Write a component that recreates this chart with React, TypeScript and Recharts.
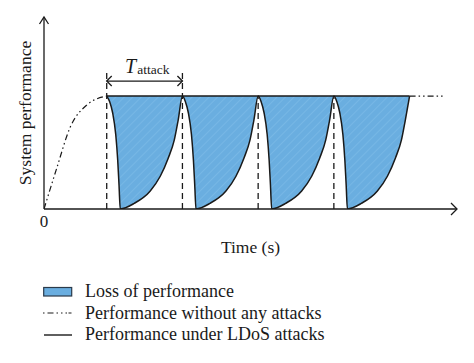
import React from "react";
import {
  ComposedChart,
  Area,
  Line,
  XAxis,
  YAxis,
  ReferenceLine,
  ReferenceDot,
} from "recharts";

// time axis (arbitrary units), performance normalised to 1 = no attack
const attackTime = [
  8.2, 8.59, 8.98, 9.38, 9.64, 9.81, 9.97, 11.8, 13.89, 15.2, 16.24, 17.03, 17.55,
  18.1, 18.49, 18.88, 19.28, 19.54, 19.71, 19.87, 21.7, 23.79, 25.1, 26.14, 26.93, 27.45,
  28.0, 28.39, 28.78, 29.18, 29.44, 29.61, 29.77, 31.6, 33.69, 35.0, 36.04, 36.83, 37.35,
  37.9, 38.29, 38.68, 39.08, 39.34, 39.51, 39.67, 41.5, 43.59, 44.9, 45.94, 46.73, 47.25,
  47.8,
];
const attackPerf = [
  1, 0.95, 0.85, 0.66, 0.43, 0.21, 0, 0.05, 0.16, 0.29, 0.45, 0.61, 0.79,
  1, 0.95, 0.85, 0.66, 0.43, 0.21, 0, 0.05, 0.16, 0.29, 0.45, 0.61, 0.79,
  1, 0.95, 0.85, 0.66, 0.43, 0.21, 0, 0.05, 0.16, 0.29, 0.45, 0.61, 0.79,
  1, 0.95, 0.85, 0.66, 0.43, 0.21, 0, 0.05, 0.16, 0.29, 0.45, 0.61, 0.79,
  1,
];
const peakPerf = 1;

const rampTime = [0, 1.66, 3.4, 5.58, 8.2];
const rampPerf = [0, 0.36, 0.72, 0.92, 1];
const tailTime = [47.8, 52.3];
const tailPerf = [1, 1];

const attackStarts = [8.2, 18.1, 28.0, 37.9];
const periodMarkTop = 1.23;
const periodArrowY = 1.133;

const legendItems = [
  "Loss of performance",
  "Performance without any attacks",
  "Performance under LDoS attacks",
];

const attackData = attackTime.map((t, i) => ({ t, perf: attackPerf[i], peak: peakPerf }));
const rampData = rampTime.map((t, i) => ({ t, perf: rampPerf[i] }));
const tailData = tailTime.map((t, i) => ({ t, perf: tailPerf[i] }));

const INK = "#1a1a1a";
const FILL = "#6aaee0";
const FONT = "'Liberation Serif', 'Times New Roman', serif";
const DASHDOT = "6 3 1.5 3 1.5 3";

const upArrow = (p: any) => (
  <path d={`M${p.cx - 4.5},${p.cy + 7} L${p.cx},${p.cy} L${p.cx + 4.5},${p.cy + 7}`} fill="none" stroke={INK} strokeWidth={1.3} />
);
const rightArrow = (p: any) => (
  <path d={`M${p.cx - 6},${p.cy - 6} L${p.cx},${p.cy} L${p.cx - 6},${p.cy + 6}`} fill="none" stroke={INK} strokeWidth={1.3} />
);

const doubleArrow = (p: any) => {
  const { x1, y1, x2, y2 } = p;
  return (
    <g fill="none" stroke={INK} strokeWidth={1.3}>
      <line x1={x1} y1={y1} x2={x2} y2={y2} />
      <path d={`M${x1 + 5},${y1 - 5} L${x1},${y1} L${x1 + 5},${y1 + 5}`} />
      <path d={`M${x2 - 5},${y2 - 5} L${x2},${y2} L${x2 - 5},${y2 + 5}`} />
    </g>
  );
};

const periodLabel = (p: any) => (
  <text x={p.cx} y={p.cy} textAnchor="middle" fill={INK} fontFamily={FONT}>
    <tspan fontSize={20} fontStyle="italic">T</tspan>
    <tspan fontSize={13.5} dx={1} dy={1}>attack</tspan>
  </text>
);

function LegendIcon({ kind }: { kind: number }) {
  return (
    <svg width={30} height={12} style={{ display: "block" }}>
      {kind === 0 && <rect x={0.7} y={1.5} width={28} height={8.5} fill={FILL} stroke="#2a3a4a" strokeWidth={1.2} />}
      {kind === 1 && <line x1={0} y1={6} x2={29} y2={6} stroke={INK} strokeWidth={1.2} strokeDasharray="1.5 3 6 3 1.5 3 1.5 3 1.5" />}
      {kind === 2 && <line x1={1} y1={6} x2={29} y2={6} stroke={INK} strokeWidth={1.4} />}
    </svg>
  );
}

export default function App() {
  return (
    <div style={{ position: "absolute", left: 0, top: 0, width: 474, height: 363, background: "#fff", fontFamily: FONT }}>
      <ComposedChart width={474} height={363} margin={{ top: 17, right: 17, left: 0, bottom: 104 }}>
        <defs>
          <pattern id="hatch" width={6} height={6} patternUnits="userSpaceOnUse" patternTransform="rotate(45)">
            <rect width={6} height={6} fill={FILL} />
            <line x1={0} y1={0} x2={0} y2={6} stroke="#7dbbe8" strokeWidth={1.4} />
          </pattern>
        </defs>
        <XAxis
          type="number"
          dataKey="t"
          domain={[0, 54]}
          ticks={[0]}
          tickLine={false}
          tickMargin={0}
          height={50}
          axisLine={{ stroke: INK, strokeWidth: 1.3 }}
          tick={{ fontSize: 17, fill: INK, fontFamily: FONT }}
          label={{ value: "Time (s)", position: "insideBottom", offset: 6, fontSize: 17.5, fill: INK, fontFamily: FONT }}
          allowDataOverflow
        />
        <YAxis
          type="number"
          domain={[0, 1.7]}
          width={44}
          tick={false}
          tickLine={false}
          axisLine={{ stroke: INK, strokeWidth: 1.3 }}
          label={{
            value: "System performance",
            angle: -90,
            position: "insideLeft",
            offset: 25,
            fontSize: 17.5,
            fill: INK,
            fontFamily: FONT,
            style: { textAnchor: "middle" },
          }}
          allowDataOverflow
        />
        <Area
          data={attackData}
          dataKey={(d: any) => [d.perf, d.peak]}
          type="monotone"
          fill="url(#hatch)"
          fillOpacity={1}
          stroke={INK}
          strokeWidth={1.5}
          dot={false}
          activeDot={false}
          isAnimationActive={false}
        />
        <Line data={rampData} dataKey="perf" type="monotone" stroke={INK} strokeWidth={1.2} strokeDasharray={DASHDOT} dot={false} activeDot={false} isAnimationActive={false} />
        <Line data={tailData} dataKey="perf" type="linear" stroke={INK} strokeWidth={1.2} strokeDasharray={DASHDOT} dot={false} activeDot={false} isAnimationActive={false} />
        {attackStarts.map((x, i) => (
          <ReferenceLine
            key={x}
            segment={[{ x, y: 0 }, { x, y: i < 2 ? periodMarkTop : peakPerf }]}
            stroke={INK}
            strokeWidth={1.3}
            strokeDasharray="6 4"
          />
        ))}
        <ReferenceLine
          segment={[{ x: attackStarts[0], y: periodArrowY }, { x: attackStarts[1], y: periodArrowY }]}
          shape={doubleArrow}
        />
        <ReferenceDot x={13.5} y={1.2} shape={periodLabel} />
        <ReferenceDot x={0} y={1.7} shape={upArrow} />
        <ReferenceDot x={54} y={0} shape={rightArrow} />
      </ComposedChart>
      {legendItems.map((name, i) => (
        <div
          key={name}
          style={{
            position: "absolute",
            left: 43,
            top: [281.5, 303, 324.5][i],
            height: 20,
            display: "flex",
            alignItems: "center",
            fontSize: 18,
            color: INK,
            whiteSpace: "nowrap",
          }}
        >
          <LegendIcon kind={i} />
          <span style={{ marginLeft: 12 }}>{name}</span>
        </div>
      ))}
    </div>
  );
}
